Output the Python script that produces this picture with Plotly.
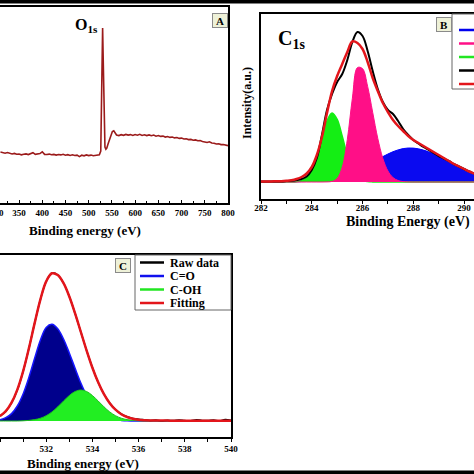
import plotly.graph_objects as go

W = H = 474
FONT = "Liberation Serif, Times New Roman, serif"

# ---------------- Panel A : survey spectrum ----------------
survey_ev = [310, 315, 320, 325, 330, 335, 340, 345, 350, 355, 360, 365, 370, 375, 380, 385,
             390, 395, 400, 405, 410, 415, 420, 425, 430, 435, 440, 445, 450, 455, 460, 465,
             470, 475, 480, 485, 490, 495, 500, 505, 510, 515, 520, 523, 526, 528, 529, 530,
             531, 532, 533, 534, 535, 537, 539, 542, 545, 548, 551, 554, 557, 560, 565, 570,
             575, 580, 585, 590, 595, 600, 605, 610, 615, 620, 625, 630, 635, 640, 645, 650,
             655, 660, 665, 670, 675, 680, 685, 690, 695, 700, 705, 710, 715, 720, 725, 730,
             735, 740, 745, 750, 755, 760, 765, 770, 775, 780, 785, 790, 795, 800]
survey_int = [51.0, 50.2, 49.8, 50.4, 49.3, 49.0, 49.6, 48.8, 48.9, 48.2, 48.8, 49.1, 48.4, 49.6, 50.3, 48.7,
              48.9, 49.4, 51.2, 48.6, 48.5, 48.9, 48.2, 48.6, 47.9, 48.5, 48.1, 48.7, 47.8, 48.3, 47.6, 48.2,
              47.5, 47.9, 46.4, 47.8, 47.2, 48.1, 47.4, 47.9, 47.3, 47.8, 47.6, 48.2, 52.0, 110.0, 160.0, 175.0,
              150.0, 120.0, 85.0, 63.0, 56.0, 53.8, 55.0, 59.5, 64.0, 68.5, 71.5, 72.3, 70.0, 68.0, 67.4, 68.3,
              67.7, 68.6, 67.9, 68.4, 67.5, 68.5, 67.8, 68.7, 67.6, 68.2, 67.4, 68.1, 67.3, 67.9, 66.8, 67.5,
              66.6, 66.9, 65.9, 66.5, 65.6, 66.0, 65.1, 65.5, 64.6, 64.9, 64.0, 64.3, 63.4, 63.6, 62.8, 63.1,
              62.2, 62.4, 61.5, 61.3, 60.5, 61.2, 60.0, 59.8, 59.0, 59.3, 58.4, 58.5, 57.6, 57.3]

# ---------------- Panel B : C1s ----------------
c1s_ev = [282.0, 282.2, 282.4, 282.6, 282.8, 283.0, 283.2, 283.4, 283.6, 283.8, 284.0, 284.2,
          284.4, 284.6, 284.8, 285.0, 285.2, 285.4, 285.6, 285.8, 286.0, 286.2, 286.4, 286.6,
          286.8, 287.0, 287.2, 287.4, 287.6, 287.8, 288.0, 288.2, 288.4, 288.6, 288.8, 289.0,
          289.2, 289.4, 289.6, 289.8, 290.0, 290.2, 290.4, 290.6, 290.8, 291.0, 291.2]
c1s_raw = [0.5, 0.5, 0.5, 0.6, 0.6, 0.9, 1.2, 1.9, 3.0, 5.5, 12.0, 24.0,
           47.0, 72.0, 88.0, 100.0, 108.0, 122.0, 140.0, 150.0, 146.0, 131.0, 111.0, 93.0,
           80.0, 72.0, 68.0, 61.0, 53.0, 47.0, 42.0, 38.5, 35.0, 32.0, 29.0, 26.0,
           23.5, 21.0, 18.0, 15.5, 13.0, 10.5, 8.5, 6.5, 5.0, 4.0, 3.0]
c1s_fit = [0.5, 0.5, 0.6, 0.7, 0.8, 1.2, 1.8, 3.0, 5.0, 8.5, 15.0, 27.0,
           45.0, 69.0, 91.0, 106.0, 118.0, 130.0, 140.5, 139.0, 133.0, 120.0, 104.0, 91.0,
           79.0, 70.0, 62.0, 56.0, 51.0, 46.0, 42.0, 39.0, 36.0, 33.0, 30.0, 27.0,
           24.0, 21.0, 18.0, 15.5, 13.0, 10.5, 8.5, 6.5, 5.0, 4.0, 3.0]
c1s_peak_cc = [0, 0, 0, 0, 0, 0, 0, 0.3, 1.3, 4.4, 11.7, 25.2,
               43.8, 61.2, 69.0, 62.6, 45.7, 26.9, 12.8, 4.9, 1.5, 0.4, 0.1, 0,
               0, 0, 0, 0, 0, 0, 0, 0, 0, 0, 0, 0,
               0, 0, 0, 0, 0, 0, 0, 0, 0, 0, 0]
c1s_peak_co = [0, 0, 0, 0, 0, 0, 0, 0, 0, 0, 0, 0,
               0, 0.1, 0.6, 3.6, 14.9, 42.5, 83.8, 114.4, 113.4, 95.6, 69.6, 43.6,
               23.6, 11.0, 4.4, 1.5, 0.4, 0.1, 0, 0, 0, 0, 0, 0,
               0, 0, 0, 0, 0, 0, 0, 0, 0, 0, 0]
c1s_peak_oco = [0, 0, 0.1, 0.1, 0.1, 0.2, 0.2, 0.3, 0.4, 0.5, 0.7, 1.1,
                1.6, 2.3, 3.1, 4.2, 5.5, 7.2, 9.1, 11.4, 13.9, 16.7, 19.6, 22.6,
                25.4, 28.0, 30.3, 32.1, 33.4, 34.0, 33.9, 33.2, 31.9, 30.2, 28.0, 25.6,
                23.0, 20.2, 17.5, 14.9, 12.4, 10.2, 8.2, 6.5, 5.0, 3.8, 2.8]

# ---------------- Panel C : O1s ----------------
o1s_ev = [530.00, 530.25, 530.50, 530.75, 531.00, 531.25, 531.50, 531.75, 532.00, 532.25,
          532.50, 532.75, 533.00, 533.25, 533.50, 533.75, 534.00, 534.25, 534.50, 534.75,
          535.00, 535.25, 535.50, 535.75, 536.00, 536.25, 536.50, 536.75, 537.00, 537.25,
          537.50, 537.75, 538.00, 538.25, 538.50, 538.75, 539.00, 539.25, 539.50, 539.75, 540.00]
o1s_raw = [5.0, 9.5, 18.0, 31.0, 49.5, 72.5, 98.0, 121.5, 139.5, 148.0,
           146.0, 138.0, 124.5, 107.5, 89.0, 70.5, 53.5, 38.5, 27.0, 18.0,
           11.5, 7.0, 4.2, 2.6, 1.8, 1.2, 0.6, 0.9, 0.3, 0.8,
           0.4, 1.1, 0.5, 0.2, 1.3, 0.6, 0.4, 0.9, 0.3, 1.5, 0.7]
o1s_fit = [4.9, 9.8, 18.3, 31.4, 49.7, 72.6, 97.9, 121.7, 139.6, 147.7,
           145.9, 137.8, 124.5, 107.6, 89.0, 70.4, 53.3, 38.7, 26.8, 17.8,
           11.3, 6.8, 4.0, 2.2, 1.2, 0.8, 0.6, 0.5, 0.4, 0.4,
           0.3, 0.3, 0.3, 0.3, 0.3, 0.3, 0.3, 0.3, 0.3, 0.3, 0.3]
o1s_c_o = [1.3, 3.3, 7.4, 15.0, 27.0, 43.5, 62.7, 81.0, 93.6, 96.8,
           92.3, 82.0, 68.0, 52.7, 38.0, 25.6, 16.1, 9.5, 5.2, 2.7,
           1.3, 0.6, 0.2, 0.1, 0, 0, 0, 0, 0, 0,
           0, 0, 0, 0, 0, 0, 0, 0, 0, 0, 0]
o1s_c_oh = [0, 0, 0, 0, 0.2, 0.6, 1.4, 2.8, 5.3, 9.1,
            14.2, 20.0, 25.5, 29.5, 31.0, 29.5, 25.5, 20.0, 14.2, 9.1,
            5.3, 2.8, 1.4, 0.6, 0.2, 0, 0, 0, 0, 0,
            0, 0, 0, 0, 0, 0, 0, 0, 0, 0, 0]

o1s_legend = ["Raw data", "C=O", "C-OH", "Fitting"]


def px(x):
    return x / W


def py(y):
    return 1 - y / H


fig = go.Figure()

# Panel A
fig.add_trace(go.Scatter(x=survey_ev, y=survey_int, mode="lines", name="Survey",
                         line=dict(color="#9b1b1b", width=1.6), xaxis="x", yaxis="y"))

# Panel B
fig.add_trace(go.Scatter(x=c1s_ev, y=c1s_peak_oco, mode="lines", name="O-C=O", fill="tozeroy",
                         fillcolor="#0a0af0", line=dict(color="#0000ff", width=1, shape="spline"),
                         xaxis="x2", yaxis="y2"))
fig.add_trace(go.Scatter(x=c1s_ev, y=c1s_peak_cc, mode="lines", name="C-C", fill="tozeroy",
                         fillcolor="#14ee14", line=dict(color="#14ee14", width=1.5, shape="spline"),
                         xaxis="x2", yaxis="y2"))
fig.add_trace(go.Scatter(x=c1s_ev, y=c1s_peak_co, mode="lines", name="C-O", fill="tozeroy",
                         fillcolor="#ff0f87", line=dict(color="#ff0f87", width=1, shape="spline"),
                         xaxis="x2", yaxis="y2"))
fig.add_trace(go.Scatter(x=c1s_ev, y=c1s_raw, mode="lines", name="Raw data",
                         line=dict(color="black", width=2, shape="spline"), xaxis="x2", yaxis="y2"))
fig.add_trace(go.Scatter(x=c1s_ev, y=c1s_fit, mode="lines", name="Fitting",
                         line=dict(color="#e3151b", width=2.5, shape="spline"), xaxis="x2", yaxis="y2"))

# Panel C
fig.add_trace(go.Scatter(x=o1s_ev, y=o1s_c_o, mode="lines", name="C=O", fill="tozeroy",
                         fillcolor="#00008c", line=dict(color="#1515ff", width=1.5, shape="spline"),
                         xaxis="x3", yaxis="y3"))
fig.add_trace(go.Scatter(x=o1s_ev, y=o1s_c_oh, mode="lines", name="C-OH", fill="tozeroy",
                         fillcolor="#22ee22", line=dict(color="#1fbf1f", width=1, shape="spline"),
                         xaxis="x3", yaxis="y3"))
fig.add_trace(go.Scatter(x=o1s_ev, y=o1s_raw, mode="lines", name="Raw data",
                         line=dict(color="black", width=1.5, shape="spline"), xaxis="x3", yaxis="y3"))
fig.add_trace(go.Scatter(x=o1s_ev, y=o1s_fit, mode="lines", name="Fitting",
                         line=dict(color="#e3151b", width=2.5, shape="spline"), xaxis="x3", yaxis="y3"))

tickfont = dict(family=FONT, size=9, color="black", weight="bold")


def xax(domain, rng, dtick, minor, ticks, anchor, standoff=0):
    return dict(domain=domain, range=rng, dtick=dtick, tick0=0, ticks=ticks, ticklen=3, tickwidth=1.2,
                tickcolor="black", minor=dict(dtick=minor, ticks=ticks, ticklen=2.5, tickwidth=1.2,
                                              tickcolor="black"),
                showline=True, mirror=True, linecolor="black", linewidth=2, showgrid=False,
                zeroline=False, tickfont=tickfont, anchor=anchor, ticklabelstandoff=standoff)


def yax(domain, rng, side, anchor):
    return dict(domain=domain, range=rng, side=side, showline=True, mirror=False, linecolor="black",
                linewidth=2, showticklabels=False, ticks="", showgrid=False, zeroline=False,
                anchor=anchor)


fig.update_layout(
    width=W, height=H, margin=dict(l=0, r=0, t=0, b=0, pad=0, autoexpand=False),
    paper_bgcolor="white", plot_bgcolor="white", showlegend=False,
    xaxis=xax([0, px(228)], [309, 800], 50, 25, "inside", "y"),
    yaxis=yax([py(203), py(7)], [0, 196], "right", "x"),
    xaxis2=xax([px(261), 1], [282, 290.39], 2, 1, "outside", "y2", standoff=-4),
    yaxis2=yax([py(199), py(14)], [-17, 168], "left", "x2"),
    xaxis3=xax([0, px(231)], [530, 540], 2, 1, "outside", "y3", standoff=-1),
    yaxis3=yax([py(437), py(255)], [-16, 166], "right", "x3"),
)

ann = []


def text(t, x, y, size, xanchor="center", yanchor="middle", angle=0, **kw):
    ann.append(dict(text=t, x=px(x), y=py(y), xref="paper", yref="paper", showarrow=False,
                    xanchor=xanchor, yanchor=yanchor, textangle=angle,
                    font=dict(family=FONT, size=size, color="black", weight="bold"), **kw))


# axis titles
text("Binding energy (eV)", 84.5, 230.5, 13)
text("Binding Energy (eV)", 408, 221.5, 14)
text("Intensity(a.u.)", 247, 103, 12, angle=-90)
text("Binding energy (eV)", 82.5, 463, 13)
# partially visible tick label of panel A
text("300", -3, 212.5, 9)

# peak labels
text("O<sub>1s</sub>", 73, 25, 16, xanchor="left")
text("C<sub>1s</sub>", 276, 40, 20, xanchor="left")

# panel letters
for letter, cx, cy in [("A", 219.5, 20), ("B", 444, 24.5), ("C", 123.5, 265)]:
    text(letter, cx, cy, 11, bgcolor="#eef1d8", bordercolor="#8a8a8a", borderwidth=1,
         borderpad=1, width=12, height=11)

# legend of panel C
leg_colors_c = ["black", "#1010ee", "#22e622", "#e3151b"]
leg_y_c = [262.5, 276, 289.5, 303]
shapes = []
shapes.append(dict(type="rect", xref="paper", yref="paper", x0=px(135), x1=px(231), y0=py(310), y1=py(255),
                   line=dict(color="#666666", width=1)))
for lab, col, yy in zip(o1s_legend, leg_colors_c, leg_y_c):
    shapes.append(dict(type="line", xref="paper", yref="paper", x0=px(140), x1=px(164), y0=py(yy), y1=py(yy),
                       line=dict(color=col, width=2.5)))
    text(lab, 168, yy, 12, xanchor="left")

# legend of panel B (its text lies outside the picture)
leg_colors_b = ["#0000ee", "#ff0f87", "#22e622", "black", "#e3151b"]
leg_y_b = [30, 43.5, 57, 70.5, 84]
shapes.append(dict(type="rect", xref="paper", yref="paper", x0=px(452), x1=px(520), y0=py(89), y1=py(14),
                   line=dict(color="#666666", width=1)))
for col, yy in zip(leg_colors_b, leg_y_b):
    shapes.append(dict(type="line", xref="paper", yref="paper", x0=px(459), x1=px(490), y0=py(yy), y1=py(yy),
                       line=dict(color=col, width=2.5)))

# black bands at top and bottom of the picture
shapes.append(dict(type="rect", xref="paper", yref="paper", x0=0, x1=1, y0=py(3.5), y1=1.01,
                   fillcolor="black", line=dict(width=0)))
shapes.append(dict(type="rect", xref="paper", yref="paper", x0=0, x1=1, y0=-0.01, y1=py(470.5),
                   fillcolor="black", line=dict(width=0)))

fig.update_layout(annotations=ann, shapes=shapes)
fig.write_html("out.html")
